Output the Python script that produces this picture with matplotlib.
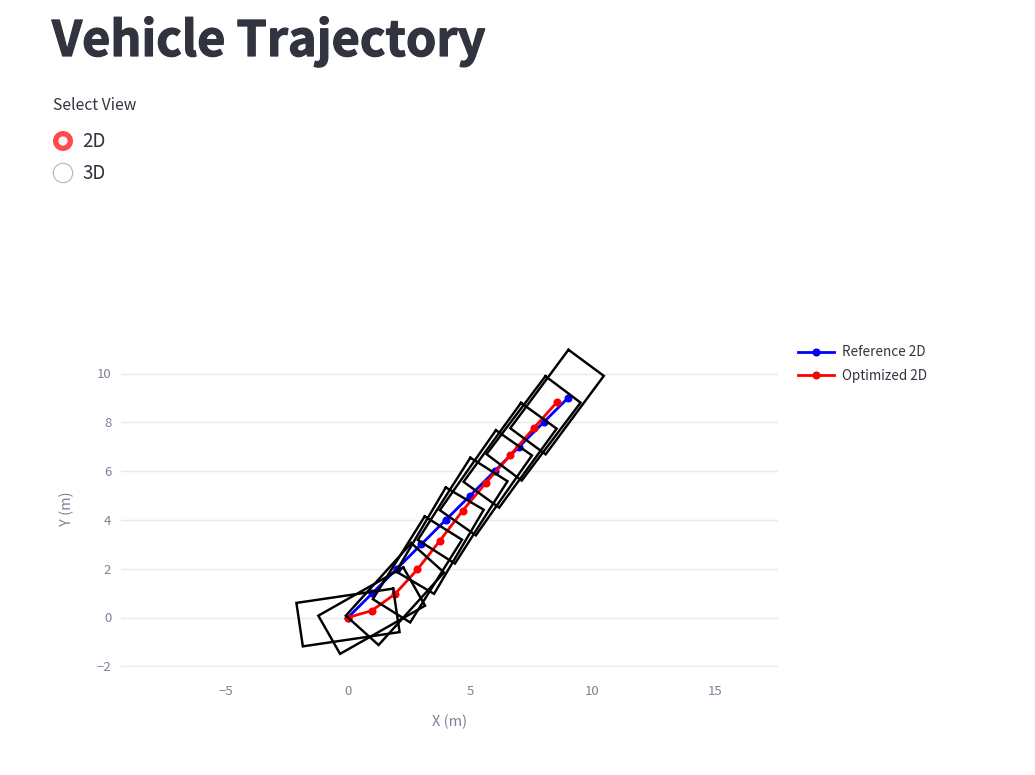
import numpy as np
import matplotlib
matplotlib.use("Agg")
import matplotlib.pyplot as plt
import matplotlib.patheffects as pe
from matplotlib.patches import Circle

plt.rcParams['font.family'] = ['Noto Sans CJK SC', 'DejaVu Sans']
plt.rcParams['axes.unicode_minus'] = True

ref_x = [0, 1, 2, 3, 4, 5, 6, 7, 8, 9]
ref_y = [0, 1, 2, 3, 4, 5, 6, 7, 8, 9]
opt_x = [0, 0.97, 1.92, 2.84, 3.76, 4.69, 5.64, 6.63, 7.59, 8.55]
opt_y = [0, 0.28, 0.96, 1.97, 3.15, 4.38, 5.52, 6.65, 7.75, 8.83]
heading_deg = [8.4, 29.6, 48, 58, 59.5, 57.5, 55, 54, 53, 53.5]
vehicle_length = 4.0
vehicle_width = 1.8
x_ticks = [-5, 0, 5, 10, 15]
y_ticks = [-2, 0, 2, 4, 6, 8, 10]

W, H = 1035, 775
fig = plt.figure(figsize=(W / 100, H / 100), dpi=100, facecolor='white')

L, R, T, B = 121, 778, 350, 667
ax = fig.add_axes([L / W, 1 - B / H, (R - L) / W, (B - T) / H])
px_x, px_y = 24.45, 24.4
ax.set_xlim((L - 348) / px_x, (R - 348) / px_x)
ax.set_ylim((617.5 - B) / px_y, (617.5 - T) / px_y)

for s in ax.spines.values():
    s.set_visible(False)
ax.set_xticks(x_ticks)
ax.set_yticks(y_ticks)
ax.tick_params(length=0, labelsize=9.5, labelcolor='#7d8196')
ax.tick_params(axis='y', pad=7)
ax.tick_params(axis='x', pad=13)
ax.grid(axis='y', color='#e6eaf1', lw=1.0)
ax.set_axisbelow(True)
ax.set_xlabel('X (m)', fontsize=10.5, color='#7d8196', labelpad=12)
ax.set_ylabel('Y (m)', fontsize=10.5, color='#7d8196', labelpad=16)

l1, = ax.plot(ref_x, ref_y, '-o', color='#0000ff', lw=2.0, ms=5.8, mew=0, label='Reference 2D', zorder=3)
l2, = ax.plot(opt_x, opt_y, '-o', color='#ff0000', lw=2.0, ms=5.8, mew=0, label='Optimized 2D', zorder=4)

for cx, cy, h in zip(opt_x, opt_y, heading_deg):
    t = np.deg2rad(h)
    u = np.array([np.cos(t), np.sin(t)]) * vehicle_length / 2
    v = np.array([-np.sin(t), np.cos(t)]) * vehicle_width / 2
    c = np.array([cx, cy])
    pts = np.array([c + u + v, c + u - v, c - u - v, c - u + v, c + u + v])
    ax.plot(pts[:, 0], pts[:, 1], color='black', lw=1.75, zorder=5,
            clip_on=False, solid_joinstyle='miter')

leg = fig.legend(handles=[l1, l2], loc='upper left', bbox_to_anchor=(798 / W, 1 - 345.5 / H),
                 frameon=False, fontsize=9.7, labelcolor='#31333f', handlelength=2.7,
                 handletextpad=0.55, labelspacing=0.71, borderpad=0, borderaxespad=0)

ui = fig.add_axes([0, 0, 1, 1], zorder=-1)
ui.set_xlim(0, W)
ui.set_ylim(H, 0)
ui.axis('off')
title = ui.text(52, 56, 'Vehicle Trajectory', fontsize=35, fontweight=900, color='#31333f', va='baseline')
title.set_path_effects([pe.withStroke(linewidth=0.9, foreground='#31333f')])
ui.text(53, 110, 'Select View', fontsize=11.3, color='#31333f', va='baseline')
ui.text(82.5, 147, '2D', fontsize=13.5, color='#31333f', va='baseline')
ui.text(82.5, 179, '3D', fontsize=13.5, color='#31333f', va='baseline')
ui.add_patch(Circle((63, 141), 10, fc='#ff4b4b', ec='none'))
ui.add_patch(Circle((63, 141), 4.6, fc='#f0f2f6', ec='none'))
ui.add_patch(Circle((63, 173), 9.7, fc='white', ec='#b5b5b5', lw=0.8))

fig.savefig('out.png', dpi=100)
